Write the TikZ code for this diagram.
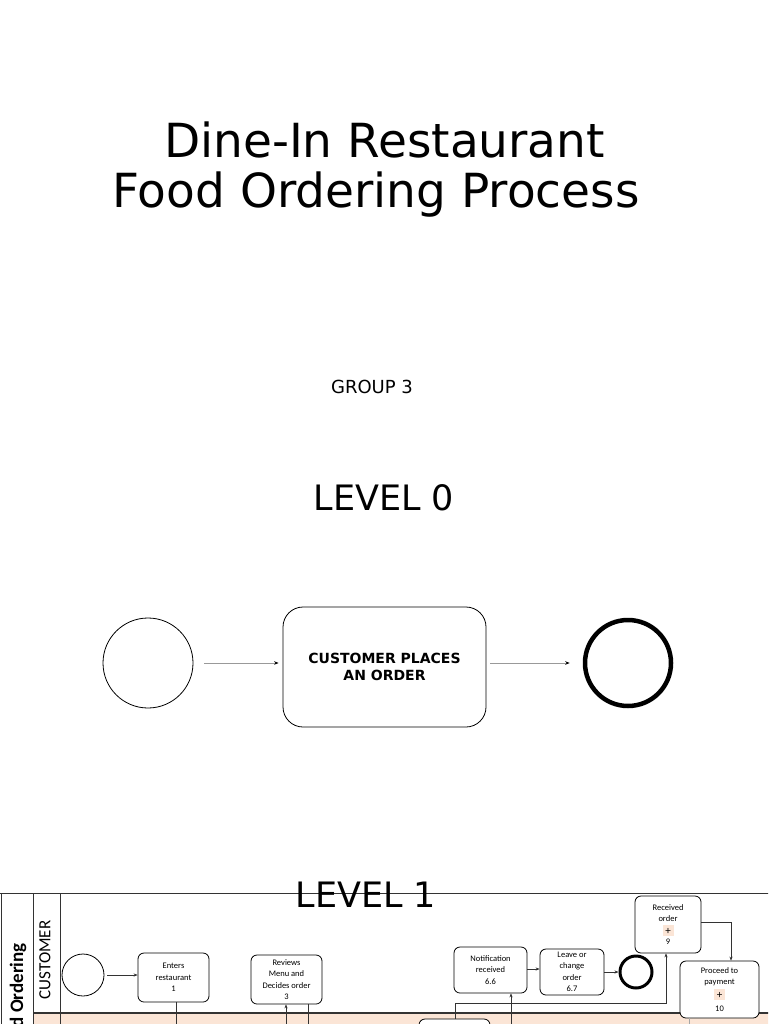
\documentclass[tikz,border=0pt]{standalone}
\usepackage{fontspec}
\setmainfont{DejaVu Sans}
\newfontfamily\carl{Carlito}
\usetikzlibrary{arrows.meta}
\definecolor{peach}{HTML}{FBE5D6}
\definecolor{conn}{HTML}{333333}
\newcommand{\plusbox}{{\setlength\fboxsep{0pt}\colorbox{peach}{\makebox[11pt][c]{\raisebox{0pt}[9pt][2pt]{\fontsize{11}{11}\selectfont +}}}}}
\begin{document}
\begin{tikzpicture}[x=1pt,y=-1pt,
  task/.style={draw, rounded corners=6pt, line width=0.8pt, fill=white, align=center,
    font=\carl\fontsize{8.5}{11.5}\selectfont, inner sep=0pt},
  flow/.style={draw=conn, line width=0.6pt, -{Stealth[length=4pt,width=3.2pt]}},
  plain/.style={draw=conn, line width=0.6pt},
  grayflow/.style={draw=gray!80, line width=0.8pt, -{Stealth[length=4.5pt,width=3.5pt,color=black]}},
  pool/.style={draw=black!80, line width=0.8pt}]
\useasboundingbox (0,0) rectangle (768,1024);
\begin{scope}
\clip (0,0) rectangle (768,1024);
% Title
\node[anchor=base, font=\fontsize{47}{50}\selectfont] (t1) at (384.5,158) {Dine-In Restaurant};
\node[anchor=base, font=\fontsize{47}{50}\selectfont] (t2) at (376,208) {Food Ordering Process};
\node[anchor=base, font=\fontsize{18}{20}\selectfont] (grp) at (372,393) {GROUP 3};
\node[anchor=base, font=\fontsize{35}{38}\selectfont] (lv0) at (384,510) {LEVEL 0};
% Level 0
\node[draw, circle, minimum size=90pt, inner sep=0, line width=0.8pt] (s0) at (148,663) {};
\node[draw, rounded corners=20pt, minimum width=203pt, minimum height=120pt, line width=0.8pt,
  align=center, font=\bfseries\fontsize{14}{17}\selectfont] (b0) at (384.5,667) {CUSTOMER PLACES\\AN ORDER};
\node[draw, circle, minimum size=86pt, inner sep=0, line width=4.5pt] (e0) at (628,663) {};
\draw[grayflow] ([xshift=11pt]s0.east) -- ([xshift=-4pt]s0.east -| b0.west);
\draw[grayflow] ([xshift=4pt]b0.east |- s0.east) -- ([xshift=-13pt]e0.west |- s0.east);
% Level 1 pool
\fill[peach] (33,1013) rectangle (770,1030);
\draw[pool] (0,893) -- (770,893);
\draw[pool] (1,893) -- (1,1030);
\draw[pool] (33,893) -- (33,1030);
\draw[pool] (60,893) -- (60,1030);
\draw[pool, line width=1.2pt] (33,1013) -- (770,1013);
\node[anchor=base, font=\fontsize{35}{38}\selectfont] (lv1) at (366,907) {LEVEL 1};
\node[rotate=90, anchor=east, inner sep=0pt, font=\carl\bfseries\fontsize{19}{21}\selectfont] (poolname) at (18,943) {Food Ordering};
\node[rotate=90, font=\carl\fontsize{17}{19}\selectfont] (lane1) at (45,960) {CUSTOMER};
% Tasks
\node[draw, circle, minimum size=42pt, inner sep=0, line width=0.8pt] (st1) at (83,975) {};
\node[task, minimum width=71pt, minimum height=49pt] (enter) at (173.5,977.5) {Enters\\restaurant\\1};
\node[task, minimum width=71pt, minimum height=49pt] (review) at (286.5,979.5) {Reviews\\Menu and\\Decides order\\3};
\node[task, minimum width=73pt, minimum height=46pt] (notif) at (490.5,970) {Notification\\received\\6.6};
\node[task, minimum width=64pt, minimum height=46pt] (leave) at (572,972) {Leave or\\change\\order\\6.7};
\node[draw, circle, minimum size=32pt, inner sep=0, line width=3pt] (end1) at (636,972) {};
\node[task, minimum width=66pt, minimum height=57pt] (recv) at (668,924.5) {Received\\order\\[1pt]\plusbox\\[-1pt]9};
\node[task, minimum width=79pt, minimum height=57pt] (pay) at (719.5,989.5) {Proceed to\\payment\\[2pt]\plusbox\\[2pt]10};
\node[task, minimum width=71pt, minimum height=42pt] (low) at (454.5,1040) {};
% free ends below the page
\coordinate (d1) at (176,1030);
\coordinate (d2) at (286,1030);
\coordinate (d3) at (308,1030);
\coordinate (d4) at (511,1030);
\coordinate (d5) at (689,1030);
% connectors
\draw[flow] (st1.east) ++(3,0) -- (enter.west |- st1.east);
\draw[plain] (enter.south -| d1) -- (d1);
\draw[flow] (d2) -- (review.south -| d2);
\draw[plain] (review.south -| d3) -- (d3);
\draw[flow] (d4) -- (notif.south -| d4);
\draw[flow] (notif.east |- 0,969) -- (leave.west |- 0,969);
\draw[flow] (leave.east |- end1.west) -- (end1.west);
\draw[flow] (low.north -| 455,0) -- (455,1003) -- (666,1003) -- (recv.south -| 666,0);
\draw[flow] (recv.east |- 0,922) -- (731,922) -- (pay.north -| 731,0);
\draw[draw=gray!70, line width=0.6pt] (pay.south -| d5) -- (d5);
\end{scope}
\end{tikzpicture}
\end{document}
